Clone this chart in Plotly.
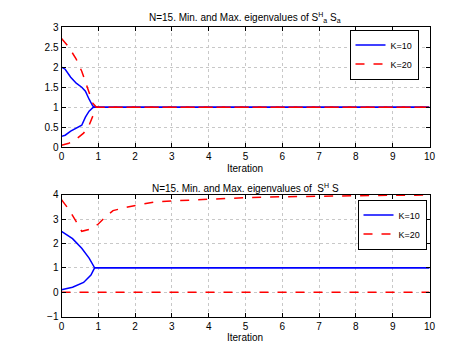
import plotly.graph_objects as go

# ---- Top subplot data (S_a^H S_a) ----
top_k10_max_x = [0, 0.1, 0.25, 0.4, 0.55, 0.65, 0.75, 0.85, 0.9, 1, 2, 3, 4, 5, 6, 7, 8, 9, 10]
top_k10_max_y = [2.0, 1.95, 1.75, 1.6, 1.5, 1.4, 1.2, 1.03, 1.0, 1, 1, 1, 1, 1, 1, 1, 1, 1, 1]
top_k10_min_x = [0, 0.1, 0.25, 0.4, 0.55, 0.65, 0.75, 0.85, 0.9, 1, 2, 3, 4, 5, 6, 7, 8, 9, 10]
top_k10_min_y = [0.27, 0.3, 0.4, 0.48, 0.55, 0.75, 0.9, 0.99, 1.0, 1, 1, 1, 1, 1, 1, 1, 1, 1, 1]
top_k20_max_x = [0, 0.2, 0.4, 0.55, 0.7, 0.85, 0.95, 1, 2, 3, 4, 5, 6, 7, 8, 9, 10]
top_k20_max_y = [2.72, 2.5, 2.2, 1.9, 1.5, 1.1, 1.0, 1, 1, 1, 1, 1, 1, 1, 1, 1, 1]
top_k20_min_x = [0, 0.2, 0.4, 0.6, 0.75, 0.9, 0.95, 1, 2, 3, 4, 5, 6, 7, 8, 9, 10]
top_k20_min_y = [0.05, 0.1, 0.2, 0.35, 0.55, 0.9, 1.0, 1, 1, 1, 1, 1, 1, 1, 1, 1, 1]

# ---- Bottom subplot data (S^H S) ----
bot_k10_max_x = [0, 0.3, 0.55, 0.75, 0.9, 1, 2, 3, 4, 5, 6, 7, 8, 9, 10]
bot_k10_max_y = [2.5, 2.2, 1.8, 1.4, 1.0, 1, 1, 1, 1, 1, 1, 1, 1, 1, 1]
bot_k10_min_x = [0, 0.3, 0.6, 0.8, 0.9, 1, 2, 3, 4, 5, 6, 7, 8, 9, 10]
bot_k10_min_y = [0.1, 0.2, 0.4, 0.7, 1.0, 1, 1, 1, 1, 1, 1, 1, 1, 1, 1]
bot_k20_max_x = [0, 0.2, 0.4, 0.55, 0.8, 1.0, 1.2, 1.4, 1.8, 2, 2.5, 3, 4, 5, 6, 7, 8, 9, 10]
bot_k20_max_y = [3.8, 3.4, 2.9, 2.5, 2.6, 2.8, 3.1, 3.35, 3.5, 3.55, 3.7, 3.75, 3.83, 3.88, 3.92, 3.95, 3.97, 3.98, 3.99]
bot_k20_min_x = [0, 1, 2, 3, 4, 5, 6, 7, 8, 9, 10]
bot_k20_min_y = [0, 0, 0, 0, 0, 0, 0, 0, 0, 0, 0]

x_ticks = [0, 1, 2, 3, 4, 5, 6, 7, 8, 9, 10]
top_y_ticks = [0, 0.5, 1, 1.5, 2, 2.5, 3]
top_y_labels = ["0", "0.5", "1", "1.5", "2", "2.5", "3"]
bot_y_ticks = [-1, 0, 1, 2, 3, 4]
bot_y_labels = ["\u22121", "0", "1", "2", "3", "4"]

BLUE = "rgb(0,0,255)"
RED = "rgb(255,0,0)"
FONT = "Liberation Sans, Arial, sans-serif"

fig = go.Figure()

def add(x, y, color, dash, name, xa, ya, legend, show):
    fig.add_trace(go.Scatter(
        x=x, y=y, mode="lines", name=name,
        line=dict(color=color, width=1.5, dash=dash),
        xaxis=xa, yaxis=ya, legend=legend, showlegend=show,
        legendgroup=name + legend,
    ))

add(top_k10_max_x, top_k10_max_y, BLUE, "solid", "K=10", "x", "y", "legend", True)
add(top_k10_min_x, top_k10_min_y, BLUE, "solid", "K=10", "x", "y", "legend", False)
add(top_k20_max_x, top_k20_max_y, RED, "dash", "K=20", "x", "y", "legend", True)
add(top_k20_min_x, top_k20_min_y, RED, "dash", "K=20", "x", "y", "legend", False)

add(bot_k10_max_x, bot_k10_max_y, BLUE, "solid", "K=10", "x2", "y2", "legend2", True)
add(bot_k10_min_x, bot_k10_min_y, BLUE, "solid", "K=10", "x2", "y2", "legend2", False)
add(bot_k20_max_x, bot_k20_max_y, RED, "dash", "K=20", "x2", "y2", "legend2", True)
add(bot_k20_min_x, bot_k20_min_y, RED, "dash", "K=20", "x2", "y2", "legend2", False)

W, H = 474, 355
OFF = 7.5  # page body margin compensation
def px(xp):
    return (xp - OFF) / W
def py(yp):
    return 1 - (yp - OFF) / H

xdom = [px(61), px(429)]
top_dom = [py(146.7), py(26.7)]
bot_dom = [py(316), py(194.3)]

axis_common = dict(
    showline=True, linecolor="black", linewidth=1, mirror="ticks",
    ticks="inside", ticklen=4, tickcolor="black", automargin=False,
    showgrid=True, gridcolor="rgb(200,200,200)", griddash="dot", gridwidth=1,
    zeroline=False, tickfont=dict(size=10, color="black", family=FONT),
)

fig.update_layout(
    width=W, height=H,
    margin=dict(l=0, r=0, t=0, b=0, pad=0, autoexpand=False),
    paper_bgcolor="white", plot_bgcolor="white",
    font=dict(family=FONT, size=10, color="black"),
    xaxis=dict(domain=xdom, anchor="y", range=[0, 10], tickvals=x_ticks, **axis_common),
    yaxis=dict(domain=top_dom, anchor="x", range=[0, 3], tickvals=top_y_ticks,
               ticktext=top_y_labels, **axis_common),
    xaxis2=dict(domain=xdom, anchor="y2", range=[0, 10], tickvals=x_ticks, **axis_common),
    yaxis2=dict(domain=bot_dom, anchor="x2", range=[-1, 4], tickvals=bot_y_ticks,
                ticktext=bot_y_labels, **axis_common),
    legend=dict(x=px(418), y=py(29), xanchor="right", yanchor="top",
                bgcolor="white", bordercolor="black", borderwidth=1,
                font=dict(size=9, family=FONT), tracegroupgap=0,
                itemwidth=30),
    legend2=dict(x=px(426), y=py(199), xanchor="right", yanchor="top",
                 bgcolor="white", bordercolor="black", borderwidth=1,
                 font=dict(size=9, family=FONT), tracegroupgap=0,
                 itemwidth=30),
    showlegend=True,
)

cx = (xdom[0] + xdom[1]) / 2
annotations = [
    dict(text="N=15. Min. and Max. eigenvalues of S<sup>H</sup><sub>a</sub> S<sub>a</sub>",
         x=cx, y=py(8), xref="paper", yref="paper",
         xanchor="center", yanchor="top", showarrow=False, font=dict(size=10)),
    dict(text="Iteration", x=cx, y=py(160), xref="paper", yref="paper",
         xanchor="center", yanchor="top", showarrow=False, font=dict(size=10)),
    dict(text="N=15. Min. and Max. eigenvalues of  S<sup>H</sup> S",
         x=cx, y=py(179), xref="paper", yref="paper",
         xanchor="center", yanchor="top", showarrow=False, font=dict(size=10)),
    dict(text="Iteration", x=cx, y=py(329), xref="paper", yref="paper",
         xanchor="center", yanchor="top", showarrow=False, font=dict(size=10)),
]
fig.update_layout(annotations=annotations)

fig.write_html("out.html")
